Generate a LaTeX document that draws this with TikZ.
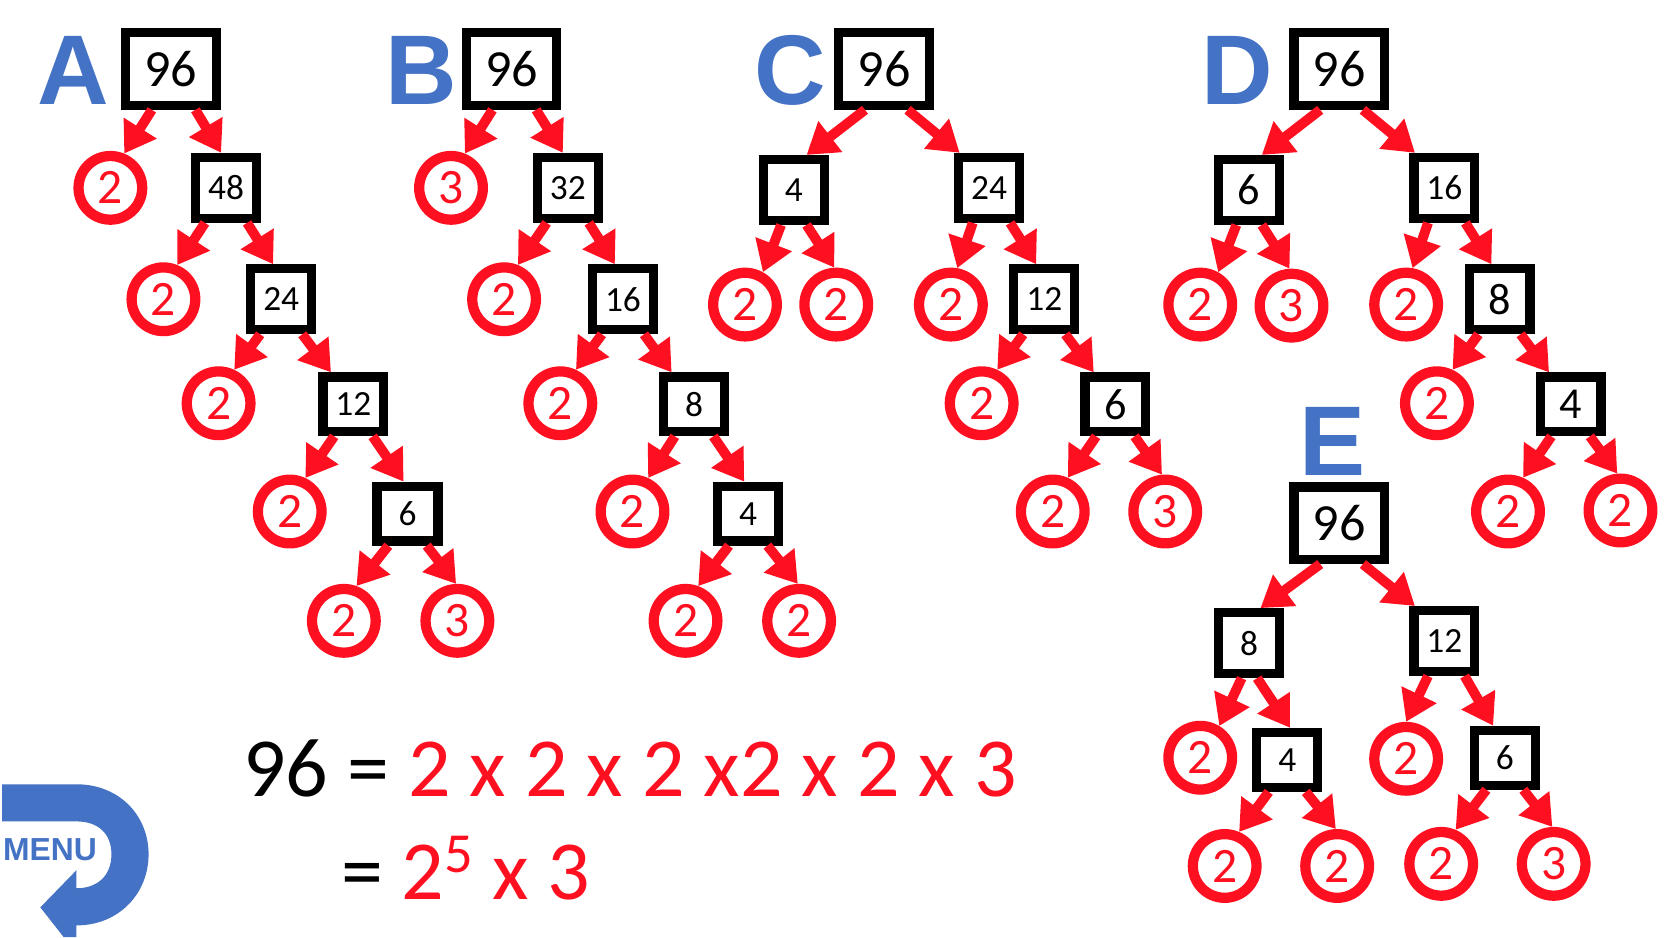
\documentclass[tikz,border=0pt]{standalone}
\usepackage{fontspec}
\usetikzlibrary{arrows.meta}
\setmainfont{Carlito}
\newfontfamily\headfont{Liberation Sans}
\definecolor{factred}{HTML}{FF1020}
\definecolor{headblue}{HTML}{4472C4}
\tikzset{
  rootbox/.style={draw=black,fill=white,line width=5.2pt,minimum width=51.2pt,minimum height=41pt,inner sep=0pt,font=\fontsize{29.5}{31}\selectfont},
  numbox/.style={draw=black,fill=white,line width=5.2pt,minimum size=34.4pt,inner sep=0pt,font=\fontsize{20}{22}\selectfont},
  bignum/.style={numbox,font=\fontsize{25}{27}\selectfont},
  flat/.style={minimum height=31pt},
  prime/.style={circle,draw=factred,fill=white,text=factred,line width=5.8pt,minimum size=36pt,inner sep=0pt,font=\fontsize{28}{30}\selectfont},
  letter/.style={text=headblue,inner sep=0pt,font=\headfont\bfseries\fontsize{56}{58}\selectfont},
  factor/.style={draw=factred,line width=5.6pt,-{Triangle[length=17pt,width=21pt]}},
  eqn/.style={anchor=west,inner sep=0pt,font=\fontsize{47.5}{50}\selectfont}
}
\begin{document}
\begin{tikzpicture}[x=0.6pt,y=-0.6pt]
  \useasboundingbox (0,0) rectangle (1568,883);
  % A
  \node[letter] (la) at (69,66) {A};
  \node[rootbox] (a0) at (161,65) {96};
  \node[prime] (a1) at (104,177) {2};
  \node[numbox] (a2) at (213,177) {48};
  \node[prime] (a3) at (154,282) {2};
  \node[numbox] (a4) at (265,282) {24};
  \node[prime] (a5) at (206,380) {2};
  \node[numbox,flat] (a6) at (333,381) {12};
  \node[prime] (a7) at (273,482) {2};
  \node[numbox,flat] (a8) at (384,484) {6};
  \node[prime] (a9) at (324,585) {2};
  \node[prime] (a10) at (431,585) {3};
  \draw[factor] (a0.245) -- (a1.68);
  \draw[factor] (a0.301) -- (a2.98);
  \draw[factor] (a2.239) -- (a3.68);
  \draw[factor] (a2.301) -- (a4.103);
  \draw[factor] (a4.239) -- (a5.65);
  \draw[factor] (a4.301) -- (a6.125);
  \draw[factor] (a6.239) -- (a7.65);
  \draw[factor] (a6.301) -- (a8.97);
  \draw[factor] (a8.239) -- (a9.70);
  \draw[factor] (a8.301) -- (a10.92);
  % B
  \node[letter] (lb) at (397,66) {B};
  \node[rootbox] (b0) at (482,65) {96};
  \node[prime] (b1) at (425,177) {3};
  \node[numbox] (b2) at (535,177) {32};
  \node[prime] (b3) at (475,282) {2};
  \node[numbox] (b4) at (587,282) {16};
  \node[prime] (b5) at (528,380) {2};
  \node[numbox,flat] (b6) at (654,381) {8};
  \node[prime] (b7) at (596,482) {2};
  \node[numbox,flat] (b8) at (705,484) {4};
  \node[prime] (b9) at (646,585) {2};
  \node[prime] (b10) at (753,585) {2};
  \draw[factor] (b0.245) -- (b1.68);
  \draw[factor] (b0.301) -- (b2.98);
  \draw[factor] (b2.239) -- (b3.68);
  \draw[factor] (b2.301) -- (b4.103);
  \draw[factor] (b4.239) -- (b5.65);
  \draw[factor] (b4.301) -- (b6.125);
  \draw[factor] (b6.239) -- (b7.65);
  \draw[factor] (b6.301) -- (b8.97);
  \draw[factor] (b8.239) -- (b9.70);
  \draw[factor] (b8.301) -- (b10.92);
  % C
  \node[letter] (lc) at (745,66) {C};
  \node[rootbox] (c0) at (833,65) {96};
  \node[numbox] (c1) at (748,179) {4};
  \node[numbox] (c2) at (932,177) {24};
  \node[prime] (c3) at (702,287) {2};
  \node[prime] (c4) at (788,287) {2};
  \node[prime] (c5) at (896,287) {2};
  \node[numbox] (c6) at (984,282) {12};
  \node[prime] (c7) at (925,380) {2};
  \node[bignum,flat] (c8) at (1051,381) {6};
  \node[prime] (c9) at (992,482) {2};
  \node[prime] (c10) at (1098,482) {3};
  \draw[factor] (c0.245) -- (c1.70);
  \draw[factor] (c0.300) -- (c2.130);
  \draw[factor] (c1.250) -- (c3.61);
  \draw[factor] (c1.290) -- (c4.93);
  \draw[factor] (c2.245) -- (c5.80);
  \draw[factor] (c2.301) -- (c6.103);
  \draw[factor] (c6.239) -- (c7.65);
  \draw[factor] (c6.301) -- (c8.124);
  \draw[factor] (c8.239) -- (c9.66);
  \draw[factor] (c8.301) -- (c10.95);
  % D
  \node[letter] (ld) at (1166,66) {D};
  \node[rootbox] (d0) at (1262,65) {96};
  \node[bignum] (d1) at (1177,179) {6};
  \node[numbox] (d2) at (1361,177) {16};
  \node[prime] (d3) at (1131,287) {2};
  \node[prime] (d4) at (1217,288) {3};
  \node[prime] (d5) at (1325,287) {2};
  \node[bignum] (d6) at (1413,282) {8};
  \node[prime] (d7) at (1354,380) {2};
  \node[bignum,flat] (d8) at (1480,381) {4};
  \node[prime] (d9) at (1421,482) {2};
  \node[prime] (d10) at (1527,481) {2};
  \draw[factor] (d0.245) -- (d1.70);
  \draw[factor] (d0.300) -- (d2.130);
  \draw[factor] (d1.250) -- (d3.61);
  \draw[factor] (d1.290) -- (d4.93);
  \draw[factor] (d2.245) -- (d5.80);
  \draw[factor] (d2.301) -- (d6.103);
  \draw[factor] (d6.239) -- (d7.65);
  \draw[factor] (d6.301) -- (d8.124);
  \draw[factor] (d8.239) -- (d9.66);
  \draw[factor] (d8.301) -- (d10.95);
  % E
  \node[letter] (le) at (1256,416) {E};
  \node[rootbox] (e0) at (1262,493) {96};
  \node[numbox] (e1) at (1177,606) {8};
  \node[numbox] (e2) at (1361,604) {12};
  \node[prime] (e3) at (1131,714) {2};
  \node[numbox,flat] (e4) at (1213,716) {4};
  \node[prime] (e5) at (1325,715) {2};
  \node[numbox,flat] (e6) at (1418,714) {6};
  \node[prime] (e7) at (1154,816) {2};
  \node[prime] (e8) at (1260,816) {2};
  \node[prime] (e9) at (1358,814) {2};
  \node[prime] (e10) at (1464,814) {3};
  \draw[factor] (e0.245) -- (e1.72);
  \draw[factor] (e0.300) -- (e2.130);
  \draw[factor] (e1.258) -- (e3.59);
  \draw[factor] (e1.283) -- (e4.85);
  \draw[factor] (e2.245) -- (e5.90);
  \draw[factor] (e2.300) -- (e6.110);
  \draw[factor] (e4.240) -- (e7.67);
  \draw[factor] (e4.300) -- (e8.92);
  \draw[factor] (e6.240) -- (e9.67);
  \draw[factor] (e6.300) -- (e10.92);
  % working
  \node[eqn] (line1) at (229,724) {96 = \textcolor{factred}{2 x 2 x 2 x2 x 2 x 3}};
  \node[eqn] (line2) at (321,818) {= \textcolor{factred}{2\raisebox{15pt}{\fontsize{32}{34}\selectfont 5} x 3}};
  % menu
  \fill[headblue] (2,739) -- (72,739) .. controls (112,739) and (140,768) .. (140,805)
    .. controls (140,842) and (112,872) .. (72,872) -- (72,883) -- (60,883) -- (38,855) -- (72,820)
    -- (72,837) .. controls (92,837) and (105,825) .. (105,805)
    .. controls (105,785) and (92,774) .. (72,774) -- (2,774) -- cycle;
  \node[text=headblue,inner sep=0pt,font=\headfont\bfseries\fontsize{18}{20}\selectfont] (menu) at (47,801) {MENU};
\end{tikzpicture}
\end{document}
